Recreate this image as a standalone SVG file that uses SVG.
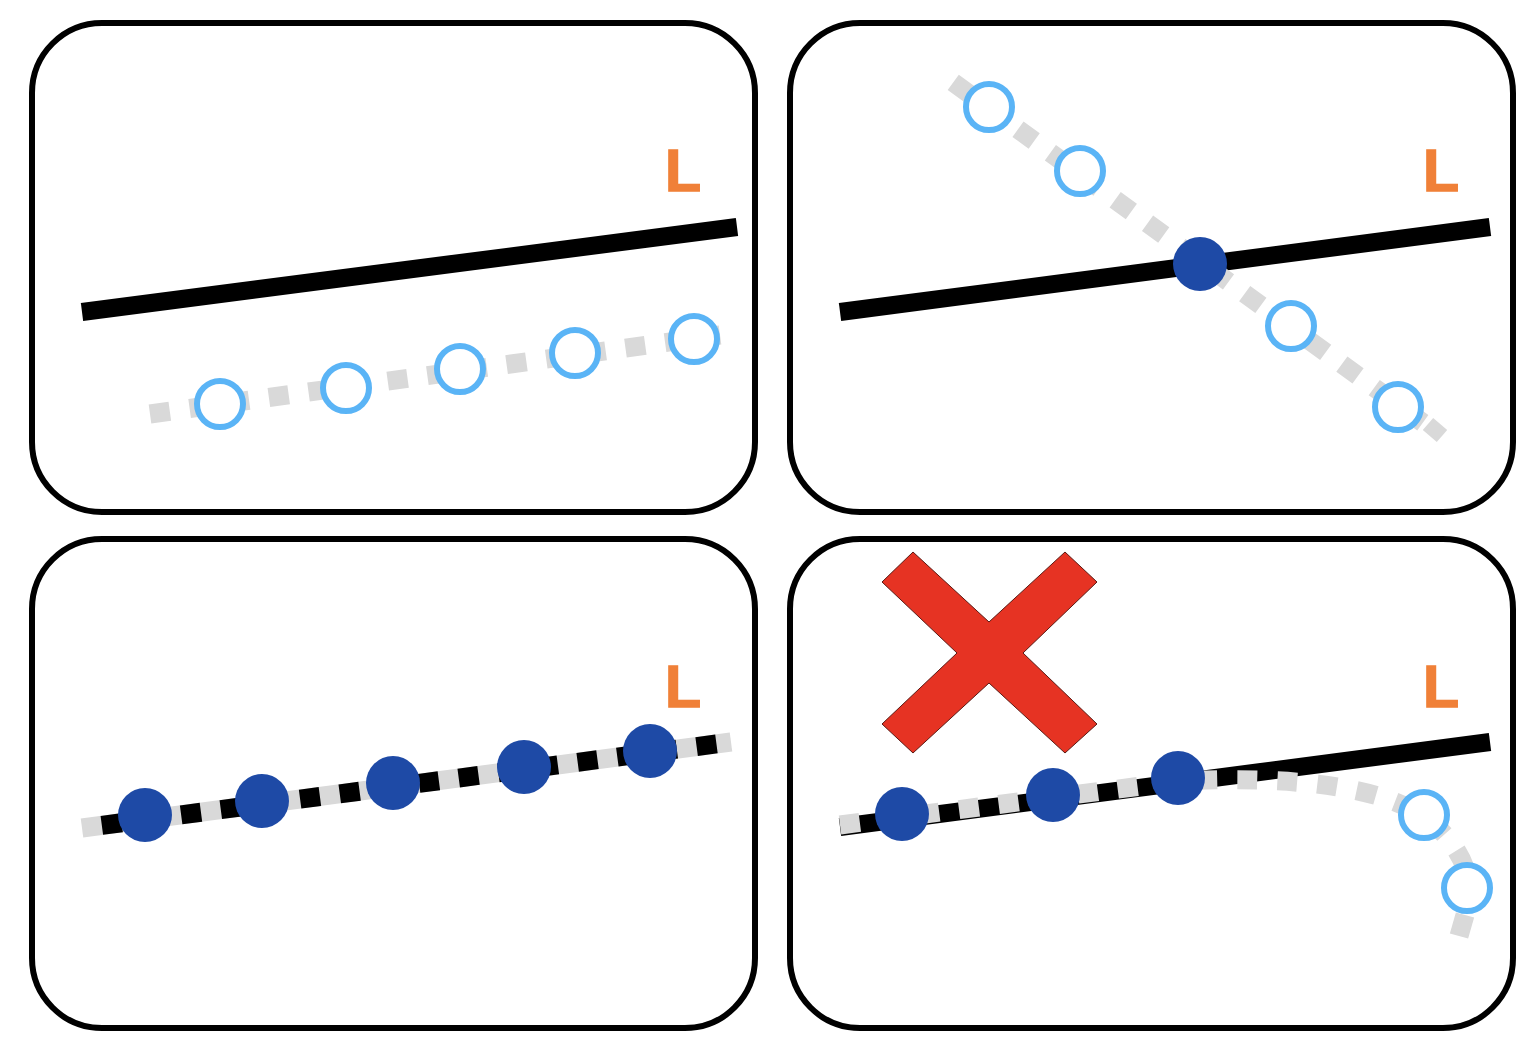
<svg xmlns="http://www.w3.org/2000/svg" width="1536" height="1053" viewBox="0 0 1536 1053">
<style>
.panel{fill:#fff;stroke:#000;stroke-width:6}
.bar{stroke:#000;stroke-width:18;fill:none}
.dots{stroke:#d9d9d9;stroke-width:19;stroke-dasharray:20 20;fill:none}
.grayline{stroke:#d9d9d9;stroke-width:19;fill:none}
.blackdash{stroke:#000;stroke-width:19;stroke-dasharray:20 20;fill:none}
.open{fill:#fff;stroke:#5ab4f6;stroke-width:6}
.fill{fill:#1e4aa6}
.lbl{font-family:"Liberation Sans",Arial,sans-serif;font-weight:700;font-size:59px;fill:#f08038;stroke:#f08038;stroke-width:1.5}
</style>
<rect width="1536" height="1053" fill="#fff"/>
<g id="panel-tl">
<rect class="panel" x="32" y="23" width="723" height="489" rx="70"/>
<path class="bar" d="M82 312 L737 227"/>
<path class="dots" d="M150 414 L720 335"/>
<circle class="open" cx="220" cy="404" r="23"/>
<circle class="open" cx="346" cy="388" r="23"/>
<circle class="open" cx="460" cy="369" r="23"/>
<circle class="open" cx="575" cy="353" r="23"/>
<circle class="open" cx="694" cy="339" r="23"/>
<text class="lbl" x="665" y="191">L</text>
</g>
<g id="panel-tr">
<rect class="panel" x="790" y="23" width="723" height="489" rx="70"/>
<path class="bar" d="M840 312 L1490 227"/>
<path class="dots" d="M950 80 L1430 428" stroke-dashoffset="-4"/>
<path class="grayline" d="M1428 424 L1442 436" style="stroke-width:16"/>
<circle class="open" cx="989" cy="107" r="23"/>
<circle class="open" cx="1080" cy="171" r="23"/>
<circle class="fill" cx="1200" cy="264" r="27"/>
<circle class="open" cx="1291" cy="326" r="23"/>
<circle class="open" cx="1398" cy="407" r="23"/>
<text class="lbl" x="1423" y="191">L</text>
</g>
<g id="panel-bl">
<rect class="panel" x="32" y="539" width="723" height="489" rx="70"/>
<path class="grayline" d="M82 828 L731 742"/>
<path class="blackdash" d="M82 828 L731 742" stroke-dashoffset="-20"/>
<circle class="fill" cx="145" cy="815" r="27"/>
<circle class="fill" cx="262" cy="801" r="27"/>
<circle class="fill" cx="393" cy="783" r="27"/>
<circle class="fill" cx="524" cy="767" r="27"/>
<circle class="fill" cx="650" cy="751" r="27"/>
<text class="lbl" x="665" y="707">L</text>
</g>
<g id="panel-br">
<rect class="panel" x="790" y="539" width="723" height="489" rx="70"/>
<path class="bar" d="M840 827 L1490 742"/>
<path class="dots" d="M840 825 L1180 781 C1290 776 1390 785 1435 825 C1462 850 1470 875 1468 890"/>
<path class="grayline" d="M1465 915 L1459 936"/>
<circle class="fill" cx="902" cy="814" r="27"/>
<circle class="fill" cx="1053" cy="795" r="27"/>
<circle class="fill" cx="1178" cy="778" r="27"/>
<circle class="open" cx="1424" cy="815" r="23"/>
<circle class="open" cx="1467" cy="888" r="23"/>
<polygon fill="#e63323" stroke="#5a1a14" stroke-width="1" points="913,552 989,622 1065,552 1097,582 1023,653 1097,724 1065,753 989,683 913,753 882,724 957,653 882,582"/>
<text class="lbl" x="1423" y="707">L</text>
</g>
</svg>
